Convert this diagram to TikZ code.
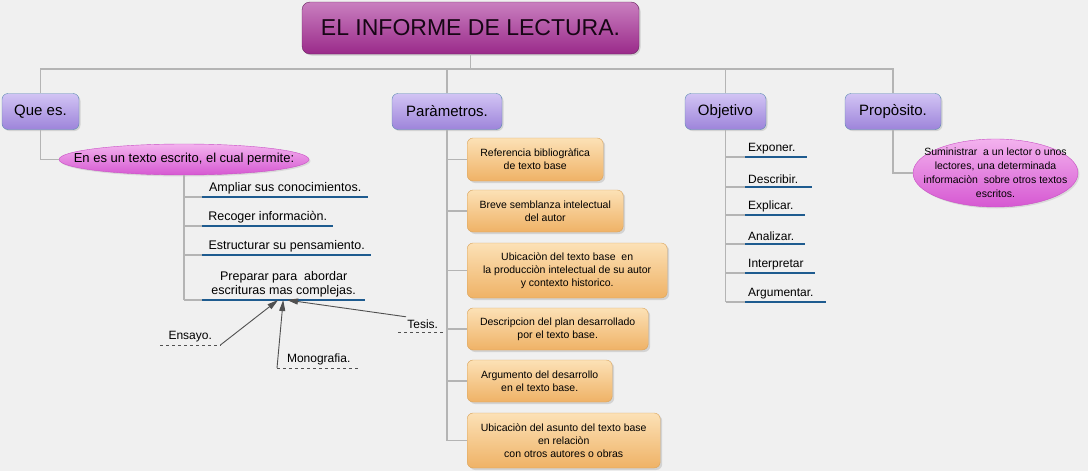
\documentclass[tikz,border=0pt]{standalone}
\usepackage{fontspec}
\setmainfont{Liberation Sans}
\usetikzlibrary{positioning, calc, arrows.meta, shapes.geometric, shadows}

\definecolor{fondo}{HTML}{F0F0F0}
\definecolor{gris}{HTML}{B4B4B4}
\definecolor{grisosc}{HTML}{505050}
\definecolor{azul}{HTML}{1E5B8F}
\definecolor{malvaA}{HTML}{C97FBF}
\definecolor{malvaB}{HTML}{9A2A8A}
\definecolor{malvaBorde}{HTML}{6A2460}
\definecolor{lilaA}{HTML}{D2C4F4}
\definecolor{lilaB}{HTML}{9D84DA}
\definecolor{lilaBorde}{HTML}{5A8AB0}
\definecolor{naranjaA}{HTML}{FCE1B6}
\definecolor{naranjaB}{HTML}{EFB266}
\definecolor{naranjaBorde}{HTML}{D9A35A}
\definecolor{rosaA}{HTML}{F3B2EE}
\definecolor{rosaB}{HTML}{D658D2}
\definecolor{rosaBorde}{HTML}{C850C4}

\tikzset{
	titulo/.style={draw=malvaBorde, rounded corners=8pt, top color=malvaA, bottom color=malvaB,
		text=black!85!malvaB, font=\fontsize{23}{26}\selectfont, minimum width=337, minimum height=52,
		drop shadow={opacity=0.3, shadow xshift=1.5pt, shadow yshift=-1.5pt}},
	cabeza/.style={draw=lilaBorde, rounded corners=6pt, top color=lilaA, bottom color=lilaB,
		font=\fontsize{15}{17}\selectfont, minimum height=36,
		drop shadow={opacity=0.25, shadow xshift=1.5pt, shadow yshift=-1.5pt}},
	caja/.style={draw=naranjaBorde, rounded corners=6pt, top color=naranjaA, bottom color=naranjaB,
		align=center, font=\fontsize{10.5}{13}\selectfont,
		drop shadow={opacity=0.25, shadow xshift=2pt, shadow yshift=-2pt}},
	globo/.style={ellipse, draw=rosaBorde, top color=rosaA, bottom color=rosaB, inner sep=0,
		drop shadow={opacity=0.2, shadow xshift=1.5pt, shadow yshift=-1.5pt}},
	item/.style={inner xsep=3pt, inner ysep=3pt, align=center, font=\fontsize{12.5}{14}\selectfont},
	etiq/.style={inner xsep=2pt, inner ysep=3pt, font=\fontsize{12}{14}\selectfont},
	conn/.style={draw=gris, line width=1.4pt},
	subr/.style={draw=azul, line width=2.6pt},
	punt/.style={draw=grisosc, dashed, line width=0.6pt},
	flecha/.style={draw=grisosc, line width=0.9pt, -{Triangle[length=11pt, width=6pt]}}
}

\begin{document}
\begin{tikzpicture}[x=1pt, y=-1pt]
\useasboundingbox[fill=fondo] (0,0) rectangle (1088,471);

% titulo y ramas principales
\node[titulo] (tit) at (470.5,28) {EL INFORME DE LECTURA.};
\foreach \n/\x/\w/\t in {quees/40.5/77/Que es., param/447/110/Paràmetros., obj/725.5/81/Objetivo, prop/893/96/Propòsito.}
	\node[cabeza, minimum width=\w] (\n) at (\x,111.5) {\t};
\coordinate (bus) at (470.5,69);
\draw[conn] (tit.south) -- (bus);
\draw[conn] (quees.north) |- (prop.north |- bus) -- (prop.north);
\foreach \n in {param, obj}
	\draw[conn] (\n.north) -- (\n.north |- bus);

% que es
\node[globo, minimum width=250, minimum height=31] (queel) at (184,159.5) {};
\node[font=\fontsize{13}{15}\selectfont] (queeltxt) at (queel) {En es un texto escrito, el cual permite:};
\draw[conn] (quees.south) |- (queel.west);
\foreach \n/\y/\w/\t in {it1/197/166/Ampliar sus conocimientos., it2/226/131/Recoger informaciòn., it3/255/169/Estructurar su pensamiento., it4/300/163/{Preparar para \ abordar\\escrituras mas complejas.}} {
	\node[item, minimum width=\w, anchor=south west] (\n) at (202,\y) {\t};
	\draw[conn] (queel.south |- \n.south west) -- (\n.south west);
	\draw[subr] (\n.south west) -- (\n.south east);
}
\draw[conn] (queel.south) -- (queel.south |- it4.south west);

% tipos
\node[etiq, minimum width=60, anchor=south west] (ens) at (160,345) {Ensayo.};
\node[etiq, minimum width=83, anchor=south west] (mono) at (277,368) {Monografia.};
\node[etiq, minimum width=49, anchor=south west] (tes) at (398,332) {Tesis.};
\foreach \n in {ens, mono, tes}
	\draw[punt] (\n.south west) -- (\n.south east);
\draw[flecha] (ens.south east) -- ($(it4.south west)!0.466!(it4.south east)$);
\draw[flecha] (mono.south west) -- ($(it4.south west)!0.497!(it4.south east)$);
\draw[flecha] ($(tes.north west)+(8,0)$) -- ($(it4.south west)!0.52!(it4.south east)$);

% parametros
\foreach \n/\y/\w/\h/\t in {p1/159.5/136/43/{Referencia bibliogràfica\\de texto base}, p2/211/156/42/{Breve semblanza intelectual\\del autor}, p3/270.5/200/55/{Ubicaciòn del texto base \ en\\la producciòn intelectual de su autor\\y contexto historico.}, p4/329/181/42/{Descripcion del plan desarrollado\\por el texto base.}, p5/381/145/42/{Argumento del desarrollo\\en el texto base.}, p6/440.5/193/55/{Ubicaciòn del asunto del texto base\\en relaciòn\\con otros autores o obras}} {
	\node[caja, minimum width=\w, minimum height=\h, anchor=west] (\n) at (467,\y) {\t};
	\draw[conn] (param.south |- \n.west) -- (\n.west);
}
\draw[conn] (param.south) -- (param.south |- p6.west);

% objetivo
\foreach \n/\y/\w/\t in {ob1/157/62/Exponer., ob2/187/67/Describir., ob3/215/60/Explicar., ob4/244/60/Analizar., ob5/273/70/Interpretar, ob6/302/81/Argumentar.} {
	\node[etiq, inner xsep=3pt, text width=\w-6, align=left, anchor=south west] (\n) at (745,\y) {\t};
	\draw[conn] (obj.south |- \n.south west) -- (\n.south west);
	\draw[subr] (\n.south west) -- (\n.south east);
}
\draw[conn] (obj.south) -- (obj.south |- ob6.south west);

% proposito
\node[globo, minimum width=165, minimum height=68] (propel) at (995.5,173) {};
\node[align=center, font=\fontsize{10.5}{14}\selectfont] (propeltxt) at (propel) {Suministrar \ a un lector o unos\\lectores, una determinada\\informaciòn \ sobre otros textos\\escritos.};
\draw[conn] (prop.south) |- (propel.west);
\end{tikzpicture}
\end{document}
